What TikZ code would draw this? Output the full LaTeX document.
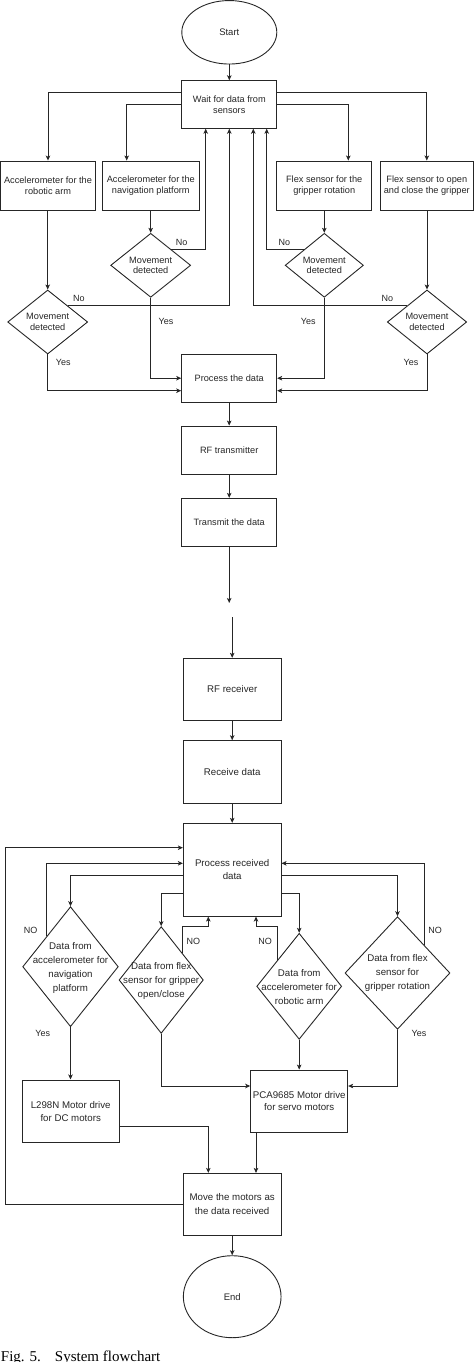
\documentclass[tikz,border=0pt]{standalone}
\usepackage{fontspec}
\setmainfont{Liberation Sans}
\newfontfamily\capfont{Liberation Serif}
\usetikzlibrary{shapes.geometric,arrows.meta}
\begin{document}
\begin{tikzpicture}[x=1pt,y=-1pt,
  line width=0.9pt, draw=black!85,
  arr/.style={-{Stealth[length=5pt,width=4.5pt,inset=1.2pt]}},
  box/.style={draw, rectangle, inner sep=0pt, align=center, text=black!85, font=\fontsize{9.2}{11.5}\selectfont},
  bbox/.style={draw, rectangle, inner sep=0pt, align=center, text=black!85, font=\fontsize{9.7}{13.5}\selectfont},
  oval/.style={draw, ellipse, inner sep=0pt, text=black!85, font=\fontsize{9.5}{11}\selectfont},
  dia/.style={draw, diamond, inner sep=0pt},
  ttext/.style={align=center, inner sep=0pt, text=black!85, font=\fontsize{9.2}{10.5}\selectfont},
  btext/.style={align=center, inner sep=0pt, text=black!85, font=\fontsize{9.7}{14}\selectfont},
  lab/.style={inner sep=0pt, text=black!85, font=\fontsize{9}{10}\selectfont},
]
\useasboundingbox (0,0) rectangle (474,1362);

% ---------- top part ----------
\node[oval, minimum width=95pt, minimum height=63.5pt] (start) at (229.3,32.3) {Start};
\node[box, minimum width=95pt, minimum height=47.5pt] (wait) at (229.3,104.5) {Wait for data from\\sensors};

\node[box, minimum width=95pt, minimum height=49pt] (s1) at (48,185.5) {Accelerometer for the\\robotic arm};
\node[box, minimum width=96.3pt, minimum height=49pt] (s2) at (150.8,185.5) {Accelerometer for the\\navigation platform};
\node[box, minimum width=95pt, minimum height=49pt] (s3) at (324.2,185.5) {Flex sensor for the\\gripper rotation};
\node[box, minimum width=93.5pt, minimum height=49pt] (s4) at (426.8,185.5) {Flex sensor to open\\and close the gripper};

\node[dia, minimum width=80pt, minimum height=64pt] (d1) at (47.7,322) {};
\node[ttext] (d1t) at (d1) {Movement\\detected};
\node[dia, minimum width=80pt, minimum height=64pt] (d2) at (150.7,265.3) {};
\node[ttext] (d2t) at (d2) {Movement\\detected};
\node[dia, minimum width=78.3pt, minimum height=64pt] (d3) at (324.3,265.3) {};
\node[ttext] (d3t) at (d3) {Movement\\detected};
\node[dia, minimum width=79.4pt, minimum height=64pt] (d4) at (427,322) {};
\node[ttext] (d4t) at (d4) {Movement\\detected};

\node[box, minimum width=95pt, minimum height=48.3pt] (proc) at (229.2,378.2) {Process the data};
\node[box, minimum width=95pt, minimum height=48.3pt] (rft) at (229.2,450.2) {RF transmitter};
\node[box, minimum width=95pt, minimum height=48.3pt] (tx) at (229.2,522.5) {Transmit the data};

\draw[arr] (start) -- (wait);
\draw[arr] (wait.west |- 0,92.7) -| (s1.north);
\draw[arr] (wait.west) -| (126.7,0 |- s2.north);
\draw[arr] (wait.east |- 0,92.7) -| (s4.north);
\draw[arr] (wait.east) -| (348.3,0 |- s3.north);

\draw[arr] (s1.south -| d1.north) -- (d1.north);
\draw[arr] (s2.south -| d2.north) -- (d2.north);
\draw[arr] (s3.south -| d3.north) -- (d3.north);
\draw[arr] (s4.south -| d4.north) -- (d4.north);

\draw[arr] (d2.north east) -| (205.7,0 |- wait.south);
\draw[arr] (d1.north east) -| (wait.south);
\draw[arr] (d3.north west) -| (266.7,0 |- wait.south);
\draw[arr] (d4.north west) -| (253.3,0 |- wait.south);

\draw[arr] (d2.south) |- (proc.west);
\draw[arr] (d1.south) |- (proc.west |- 0,390.7);
\draw[arr] (d3.south) |- (proc.east);
\draw[arr] (d4.south) |- (proc.east |- 0,390.7);

\node[lab] (no2) at (181.7,242) {No};
\node[lab] (no1) at (79,298.3) {No};
\node[lab] (no3) at (284.3,242) {No};
\node[lab] (no4) at (387.3,298.3) {No};
\node[lab] (yes2) at (166,321.7) {Yes};
\node[lab] (yes1) at (63.3,362.7) {Yes};
\node[lab] (yes3) at (308.3,321.7) {Yes};
\node[lab] (yes4) at (411,362.7) {Yes};

\draw[arr] (proc) -- (rft);
\draw[arr] (rft) -- (tx);
\coordinate (txend) at (229.2,603);
\draw[arr] (tx.south) -- (txend);

% ---------- bottom part ----------
\coordinate (rxin) at (232.2,617.3);
\node[bbox, minimum width=97.7pt, minimum height=62.4pt] (rx) at (232.2,689.5) {RF receiver};
\node[bbox, minimum width=97.7pt, minimum height=62.6pt] (recv) at (232.2,772) {Receive data};
\node[bbox, minimum width=97.7pt, minimum height=92.7pt] (prd) at (232.2,869.7) {Process received\\data};

\draw[arr] (rxin) -- (rx.north);
\draw[arr] (rx) -- (recv);
\draw[arr] (recv) -- (prd);

\node[dia, minimum width=95.6pt, minimum height=120pt] (dA) at (70.5,966.7) {};
\node[btext] (dAt) at (70.5,968) {Data from\\accelerometer for\\navigation\\platform};
\node[dia, minimum width=84.3pt, minimum height=106.7pt] (dB) at (161.2,980) {};
\node[btext] (dBt) at (161.2,980.8) {Data from flex\\sensor for gripper\\open/close};
\node[dia, minimum width=85pt, minimum height=106pt] (dC) at (299.2,986.3) {};
\node[btext] (dCt) at (299.2,986.8) {Data from\\accelerometer for\\robotic arm};
\node[dia, minimum width=105pt, minimum height=112.6pt] (dD) at (397.5,973) {};
\node[btext] (dDt) at (397.5,972.8) {Data from flex\\sensor for\\gripper rotation};

\node[bbox, minimum width=96.7pt, minimum height=62.7pt] (l298) at (70.7,1111.3) {L298N Motor drive\\for DC motors};
\node[bbox, minimum width=97pt, minimum height=62.3pt, font=\fontsize{9.7}{12.3}\selectfont] (pca) at (299.2,1101.2) {PCA9685 Motor drive\\for servo motors};
\node[bbox, minimum width=97.7pt, minimum height=61.7pt, font=\fontsize{9.7}{14.6}\selectfont] (move) at (232.2,1204.2) {Move the motors as\\the data received};
\node[oval, minimum width=97.7pt, minimum height=82pt] (endn) at (232.2,1296.7) {End};

\draw[arr] (prd.west |- 0,875.7) -| (dA.north);
\draw[arr] (prd.west |- 0,893.3) -| (dB.north);
\draw[arr] (prd.east |- 0,893.3) -| (dC.north);
\draw[arr] (prd.east |- 0,875.7) -| (dD.north);

\draw[arr] (dA.north west) |- (prd.west |- 0,863.3);
\draw[arr] (dB.north east) -- (dB.north east |- 0,926.7) -| (208.3,0 |- prd.south);
\draw[arr] (dC.north west) -- (dC.north west |- 0,926.7) -| (256,0 |- prd.south);
\draw[arr] (dD.north east) |- (prd.east |- 0,863.3);

\node[lab] (noA) at (30.7,930.7) {NO};
\node[lab] (noB) at (193.3,941.7) {NO};
\node[lab] (noC) at (265,941.7) {NO};
\node[lab] (noD) at (435,930.7) {NO};

\draw[arr] (dA.south) -- (l298.north -| dA.south);
\draw[arr] (dB.south) |- (pca.west |- 0,1086);
\draw[arr] (dC.south) -- (pca.north -| dC.south);
\draw[arr] (dD.south) |- (pca.east |- 0,1086);

\node[lab] (yesA) at (42.7,1033.3) {Yes};
\node[lab] (yesD) at (419,1033.3) {Yes};

\draw[arr] (l298.east |- 0,1126.7) -| (208.3,0 |- move.north);
\draw[arr] (256,0 |- pca.south) -- (256,0 |- move.north);
\draw[arr] (move.west) -- (5.7,0 |- move.west) |- (prd.west |- 0,847.7);
\draw[arr] (move) -- (endn);

\node[anchor=base west, inner sep=0pt, font=\capfont\fontsize{15}{15}\selectfont] (cap) at (0.5,1361) {Fig. 5.\hspace{14pt}System flowchart};
\end{tikzpicture}
\end{document}
